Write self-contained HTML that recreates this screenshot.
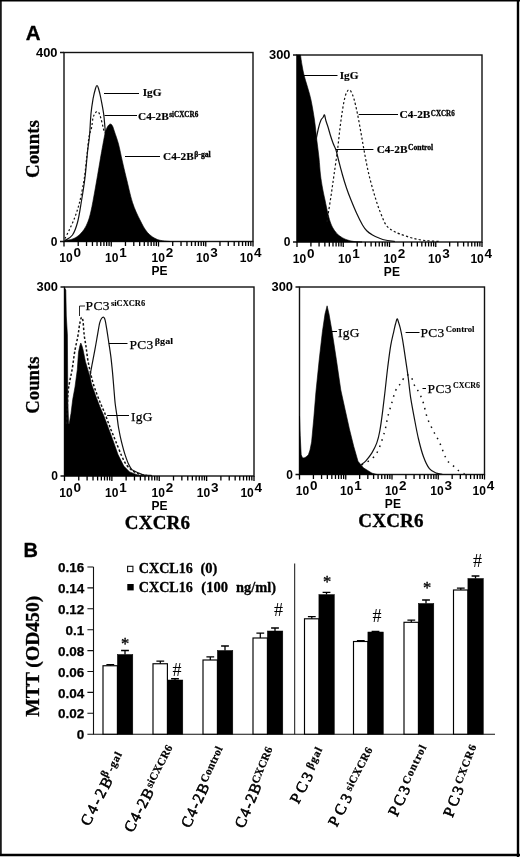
<!DOCTYPE html>
<html><head><meta charset="utf-8"><title>Figure</title>
<style>
html,body{margin:0;padding:0;background:#fff;}
body{width:520px;height:857px;overflow:hidden;position:relative;}
svg{display:block;position:absolute;left:0;top:0;}
text{fill:#111;}
.ax{font-family:"Liberation Sans",sans-serif;font-size:12px;font-weight:bold;fill:#000;}
.sup{font-size:13.5px;}
.pe{font-family:"Liberation Sans",sans-serif;font-size:12px;font-weight:bold;letter-spacing:0.2px;fill:#000;}
.lb{font-family:"Liberation Serif",serif;font-weight:bold;font-size:11.3px;fill:#000;stroke:#000;stroke-width:0.15px;}
.lbs{font-size:7.8px;stroke-width:0.3px;}
.lr{font-family:"Liberation Serif",serif;font-size:13.4px;letter-spacing:0.35px;fill:#000;stroke:#000;stroke-width:0.25px;}
.lrs{font-size:9px;font-weight:bold;letter-spacing:0;stroke-width:0.1px;}
.cx{font-family:"Liberation Serif",serif;font-weight:bold;font-size:19px;fill:#000;stroke:#000;stroke-width:0.35px;letter-spacing:0.2px;}
.cnt{font-family:"Liberation Serif",serif;font-weight:bold;font-size:19px;fill:#000;stroke:#000;stroke-width:0.3px;}
.pan{font-family:"Liberation Sans",sans-serif;font-weight:bold;font-size:20px;fill:#000;stroke:#000;stroke-width:0.3px;}
.yt{font-family:"Liberation Sans",sans-serif;font-weight:bold;font-size:13.5px;fill:#000;stroke:#000;stroke-width:0.25px;}
.lg{font-family:"Liberation Serif",serif;font-weight:bold;font-size:14.5px;fill:#000;stroke:#000;stroke-width:0.3px;}
.star{font-family:"Liberation Serif",serif;font-size:16.5px;fill:#000;stroke:#000;stroke-width:0.35px;}
.hash{font-family:"Liberation Serif",serif;font-size:18px;fill:#000;}
.xl{font-family:"Liberation Serif",serif;font-size:15.5px;letter-spacing:1.4px;fill:#000;stroke:#000;stroke-width:0.6px;}
.xls{font-size:11px;font-weight:bold;letter-spacing:0.3px;stroke-width:0.25px;}
</style></head>
<body>
<svg width="520" height="857" viewBox="0 0 520 857">
<rect x="0" y="0" width="520" height="857" fill="#fff"/>
<path d="M0.9,0 V855 M0,0.6 H520" stroke="#000" stroke-width="1.6" fill="none"/>
<path d="M518,0 V857 M0,855 H520" stroke="#000" stroke-width="2.4" fill="none"/>
<rect x="64" y="52.5" width="189" height="189.0" fill="none" stroke="#111" stroke-width="1.4"/>
<path d="M60,52.5 H64 M60,241.5 H64" stroke="#111" stroke-width="1.4" fill="none"/>
<path d="M64.00,241.5 v5 M78.22,241.5 v4.6 M86.54,241.5 v4.6 M92.45,241.5 v4.6 M97.03,241.5 v4.6 M100.77,241.5 v4.6 M103.93,241.5 v4.6 M106.67,241.5 v4.6 M109.09,241.5 v4.6 M111.25,241.5 v5 M125.47,241.5 v4.6 M133.79,241.5 v4.6 M139.70,241.5 v4.6 M144.28,241.5 v4.6 M148.02,241.5 v4.6 M151.18,241.5 v4.6 M153.92,241.5 v4.6 M156.34,241.5 v4.6 M158.50,241.5 v5 M172.72,241.5 v4.6 M181.04,241.5 v4.6 M186.95,241.5 v4.6 M191.53,241.5 v4.6 M195.27,241.5 v4.6 M198.43,241.5 v4.6 M201.17,241.5 v4.6 M203.59,241.5 v4.6 M205.75,241.5 v5 M219.97,241.5 v4.6 M228.29,241.5 v4.6 M234.20,241.5 v4.6 M238.78,241.5 v4.6 M242.52,241.5 v4.6 M245.68,241.5 v4.6 M248.42,241.5 v4.6 M250.84,241.5 v4.6 M253,241.5 v5" stroke="#000" stroke-width="1.3" fill="none"/>
<text x="57.5" y="56.8" class="ax" text-anchor="end" textLength="21.5" lengthAdjust="spacingAndGlyphs">400</text>
<text x="57.5" y="245.8" class="ax" text-anchor="end">0</text>
<text x="59.3" y="262.3" class="ax" textLength="13.4" lengthAdjust="spacingAndGlyphs">10</text>
<text x="73.5" y="257.1" class="ax sup">0</text>
<text x="105.0" y="262.3" class="ax" textLength="13.4" lengthAdjust="spacingAndGlyphs">10</text>
<text x="119.2" y="257.1" class="ax sup">1</text>
<text x="151.5" y="262.3" class="ax" textLength="13.4" lengthAdjust="spacingAndGlyphs">10</text>
<text x="165.7" y="257.1" class="ax sup">2</text>
<text x="196.0" y="262.3" class="ax" textLength="13.4" lengthAdjust="spacingAndGlyphs">10</text>
<text x="210.2" y="257.1" class="ax sup">3</text>
<text x="239.8" y="262.3" class="ax" textLength="13.4" lengthAdjust="spacingAndGlyphs">10</text>
<text x="254.0" y="257.1" class="ax sup">4</text>
<text x="159.6" y="275.4" class="pe" text-anchor="middle">PE</text>
<path d="M65.0,240.5 C66.2,239.6 70.4,238.0 72.5,235.0 C74.6,232.0 76.0,227.9 77.5,222.5 C79.0,217.1 80.0,210.0 81.2,202.5 C82.5,195.0 84.0,185.9 85.0,177.5 C86.0,169.1 86.8,158.9 87.5,152.0 C88.2,145.1 88.9,142.4 89.5,136.0 C90.1,129.6 90.4,119.8 91.0,113.5 C91.6,107.2 92.5,102.2 93.2,98.0 C94.0,93.8 94.9,90.6 95.5,88.5 C96.1,86.4 96.5,85.5 97.0,85.5 C97.5,85.5 97.9,86.4 98.5,88.5 C99.1,90.6 100.0,93.8 100.8,98.0 C101.6,102.2 102.9,108.5 103.6,113.5 C104.3,118.5 104.6,123.6 105.0,128.0 C105.4,132.4 105.2,133.0 106.0,140.0 C106.8,147.0 109.3,165.0 110.0,170.0" stroke="#111" stroke-width="1.2" fill="none"/>
<path d="M65.0,238.5 C65.6,237.2 67.3,234.1 68.8,231.0 C70.2,227.9 72.2,223.8 73.8,220.0 C75.3,216.2 76.8,212.0 78.0,208.0 C79.2,204.0 79.9,201.2 81.0,196.0 C82.1,190.8 83.5,183.8 84.5,177.0 C85.5,170.2 86.2,161.7 87.0,155.0 C87.8,148.3 88.2,141.5 89.0,137.0 C89.8,132.5 90.8,131.2 91.5,128.0 C92.2,124.8 92.4,120.5 93.0,118.0 C93.6,115.5 94.6,114.1 95.3,113.0 C96.0,111.9 96.4,111.6 97.0,111.6 C97.6,111.6 98.4,111.9 99.0,113.0 C99.6,114.1 100.1,115.7 100.8,118.0 C101.5,120.3 102.4,124.5 103.0,127.0 C103.6,129.5 104.2,132.0 104.5,133.0" stroke="#111" stroke-width="1.2" fill="none" stroke-dasharray="2 2.2"/>
<path d="M64.5,241.5 C64.6,241.3 63.8,240.9 65.0,240.5 C66.2,240.1 69.8,239.9 72.0,239.2 C74.2,238.4 76.0,237.6 78.0,236.0 C80.0,234.4 82.3,231.9 84.0,229.5 C85.7,227.1 86.8,224.6 88.0,221.5 C89.2,218.4 89.8,216.2 91.0,211.0 C92.2,205.8 93.5,198.3 95.0,190.0 C96.5,181.7 98.7,168.7 100.0,161.0 C101.3,153.3 102.1,148.8 103.0,144.0 C103.9,139.2 104.6,135.0 105.4,132.0 C106.2,129.0 107.2,127.3 108.0,126.0 C108.8,124.7 109.8,124.0 110.5,124.0 C111.2,124.0 111.8,124.7 112.5,126.0 C113.2,127.3 113.6,129.0 114.6,132.0 C115.6,135.0 117.2,139.2 118.5,144.0 C119.8,148.8 121.0,155.4 122.3,161.0 C123.6,166.6 124.5,170.6 126.2,177.5 C128.0,184.4 130.2,195.4 132.5,202.5 C134.8,209.6 137.5,215.0 140.0,220.0 C142.5,225.0 144.6,229.2 147.5,232.5 C150.4,235.8 153.8,238.0 157.5,239.5 C161.2,241.0 167.9,241.2 170.0,241.5 Z" fill="#000" stroke="#000" stroke-width="0.6"/>
<path d="M104,93.5 H139" stroke="#000" stroke-width="1" fill="none"/>
<path d="M104.5,115.5 H137" stroke="#000" stroke-width="1" fill="none"/>
<path d="M125,156.5 H160" stroke="#000" stroke-width="1" fill="none"/>
<text x="142.7" y="96.3" class="lb">IgG</text>
<text x="138" y="119.5" class="lb">C4-2B<tspan class="lbs" dx="0.5" dy="-2.6" textLength="29" lengthAdjust="spacingAndGlyphs">siCXCR6</tspan></text>
<text x="163" y="160" class="lb">C4-2B<tspan class="lbs" dx="0.5" dy="-2.6" textLength="16.5" lengthAdjust="spacingAndGlyphs">β-gal</tspan></text>
<rect x="297" y="55" width="185" height="187" fill="none" stroke="#111" stroke-width="1.4"/>
<path d="M293,55 H297 M293,242 H297" stroke="#111" stroke-width="1.4" fill="none"/>
<path d="M297.00,242 v5 M310.92,242 v4.6 M319.07,242 v4.6 M324.85,242 v4.6 M329.33,242 v4.6 M332.99,242 v4.6 M336.09,242 v4.6 M338.77,242 v4.6 M341.13,242 v4.6 M343.25,242 v5 M357.17,242 v4.6 M365.32,242 v4.6 M371.10,242 v4.6 M375.58,242 v4.6 M379.24,242 v4.6 M382.34,242 v4.6 M385.02,242 v4.6 M387.38,242 v4.6 M389.50,242 v5 M403.42,242 v4.6 M411.57,242 v4.6 M417.35,242 v4.6 M421.83,242 v4.6 M425.49,242 v4.6 M428.59,242 v4.6 M431.27,242 v4.6 M433.63,242 v4.6 M435.75,242 v5 M449.67,242 v4.6 M457.82,242 v4.6 M463.60,242 v4.6 M468.08,242 v4.6 M471.74,242 v4.6 M474.84,242 v4.6 M477.52,242 v4.6 M479.88,242 v4.6 M482,242 v5" stroke="#000" stroke-width="1.3" fill="none"/>
<text x="290.5" y="59.3" class="ax" text-anchor="end" textLength="21.5" lengthAdjust="spacingAndGlyphs">300</text>
<text x="290.5" y="246.3" class="ax" text-anchor="end">0</text>
<text x="292.7" y="262.8" class="ax" textLength="13.4" lengthAdjust="spacingAndGlyphs">10</text>
<text x="306.9" y="257.6" class="ax sup">0</text>
<text x="338.0" y="262.8" class="ax" textLength="13.4" lengthAdjust="spacingAndGlyphs">10</text>
<text x="352.2" y="257.6" class="ax sup">1</text>
<text x="383.6" y="262.8" class="ax" textLength="13.4" lengthAdjust="spacingAndGlyphs">10</text>
<text x="397.8" y="257.6" class="ax sup">2</text>
<text x="428.0" y="262.8" class="ax" textLength="13.4" lengthAdjust="spacingAndGlyphs">10</text>
<text x="442.2" y="257.6" class="ax sup">3</text>
<text x="470.4" y="262.8" class="ax" textLength="13.4" lengthAdjust="spacingAndGlyphs">10</text>
<text x="484.6" y="257.6" class="ax sup">4</text>
<text x="392" y="275.9" class="pe" text-anchor="middle">PE</text>
<path d="M297.0,242.0 L297.0,55.0 L300.5,55.0 L300.5,55.0 C300.8,56.7 301.4,61.7 302.0,65.0 C302.6,68.3 303.1,71.3 304.0,75.0 C304.9,78.7 306.3,82.8 307.5,87.0 C308.7,91.2 309.8,94.5 311.0,100.0 C312.2,105.5 313.5,113.3 314.5,120.0 C315.5,126.7 316.1,133.7 316.8,140.0 C317.6,146.3 318.4,152.2 319.0,158.0 C319.6,163.8 319.9,170.0 320.5,175.0 C321.1,180.0 321.8,183.8 322.5,188.0 C323.2,192.2 324.1,195.7 325.0,200.0 C325.9,204.3 327.0,210.0 328.0,214.0 C329.0,218.0 329.9,221.2 331.0,224.0 C332.1,226.8 333.2,228.6 334.5,230.5 C335.8,232.4 337.1,234.0 339.0,235.5 C340.9,237.0 343.5,238.5 346.0,239.5 C348.5,240.5 351.3,241.1 354.0,241.5 C356.7,241.9 360.7,241.9 362.0,242.0 Z" fill="#000" stroke="#000" stroke-width="0.6"/>
<path d="M316.0,140.0 C316.4,138.0 317.7,131.3 318.5,128.0 C319.3,124.7 320.2,121.8 321.0,120.0 C321.8,118.2 322.4,118.3 323.0,117.5 C323.6,116.7 324.0,114.4 324.5,115.0 C325.0,115.6 325.4,119.0 326.0,121.0 C326.6,123.0 327.3,124.8 328.0,127.0 C328.7,129.2 329.2,131.3 330.0,134.0 C330.8,136.7 332.0,140.3 333.0,143.0 C334.0,145.7 335.1,147.2 336.0,150.0 C336.9,152.8 337.4,155.8 338.5,160.0 C339.6,164.2 341.2,170.3 342.5,175.0 C343.8,179.7 345.1,183.8 346.5,188.0 C347.9,192.2 349.3,195.8 351.0,200.0 C352.7,204.2 354.6,208.8 356.5,213.0 C358.4,217.2 360.8,222.0 362.5,225.0 C364.2,228.0 365.3,229.3 367.0,231.0 C368.7,232.7 370.5,233.8 372.5,235.0 C374.5,236.2 376.9,237.2 379.0,238.0 C381.1,238.8 382.3,239.4 385.0,240.0 C387.7,240.6 393.3,241.2 395.0,241.5" stroke="#111" stroke-width="1.2" fill="none"/>
<path d="M327.0,222.0 C327.2,220.8 327.3,219.3 328.0,215.0 C328.7,210.7 330.0,202.7 331.0,196.0 C332.0,189.3 332.9,182.7 334.0,175.0 C335.1,167.3 336.5,157.8 337.5,150.0 C338.5,142.2 339.2,134.7 340.0,128.0 C340.8,121.3 341.7,115.2 342.5,110.0 C343.3,104.8 344.2,100.2 345.0,97.0 C345.8,93.8 346.8,92.2 347.5,91.0 C348.2,89.8 348.4,89.9 349.0,90.0 C349.6,90.1 350.2,90.0 351.0,91.5 C351.8,93.0 352.9,95.2 354.0,99.0 C355.1,102.8 356.3,108.3 357.5,114.0 C358.7,119.7 359.9,127.0 361.0,133.0 C362.1,139.0 362.7,143.0 364.0,150.0 C365.3,157.0 367.0,166.7 369.0,175.0 C371.0,183.3 374.0,193.5 376.0,200.0 C378.0,206.5 379.3,209.8 381.0,214.0 C382.7,218.2 384.1,222.2 386.0,225.0 C387.9,227.8 390.2,229.0 392.5,230.5 C394.8,232.0 396.8,232.8 400.0,234.0 C403.2,235.2 407.8,236.9 412.0,238.0 C416.2,239.1 420.3,239.9 425.0,240.5 C429.7,241.1 437.5,241.3 440.0,241.5" stroke="#111" stroke-width="1.2" fill="none" stroke-dasharray="2.2 2.2"/>
<path d="M303,75.5 H337.5" stroke="#000" stroke-width="1" fill="none"/>
<path d="M358.7,114.5 H398" stroke="#000" stroke-width="1" fill="none"/>
<path d="M335.8,149.5 H373.4" stroke="#000" stroke-width="1" fill="none"/>
<text x="339.7" y="79" class="lb">IgG</text>
<text x="399.6" y="118.2" class="lb">C4-2B<tspan class="lbs" dx="0.5" dy="-2.6" textLength="23.8" lengthAdjust="spacingAndGlyphs">CXCR6</tspan></text>
<text x="376.7" y="152.5" class="lb">C4-2B<tspan class="lbs" dx="0.5" dy="-2.6" textLength="25.3" lengthAdjust="spacingAndGlyphs">Control</tspan></text>
<rect x="64.5" y="287" width="189.5" height="189" fill="none" stroke="#111" stroke-width="1.4"/>
<path d="M60.5,287 H64.5 M60.5,476 H64.5" stroke="#111" stroke-width="1.4" fill="none"/>
<path d="M64.50,476 v5 M78.76,476 v4.6 M87.10,476 v4.6 M93.02,476 v4.6 M97.61,476 v4.6 M101.36,476 v4.6 M104.54,476 v4.6 M107.28,476 v4.6 M109.71,476 v4.6 M111.88,476 v5 M126.14,476 v4.6 M134.48,476 v4.6 M140.40,476 v4.6 M144.99,476 v4.6 M148.74,476 v4.6 M151.91,476 v4.6 M154.66,476 v4.6 M157.08,476 v4.6 M159.25,476 v5 M173.51,476 v4.6 M181.85,476 v4.6 M187.77,476 v4.6 M192.36,476 v4.6 M196.11,476 v4.6 M199.29,476 v4.6 M202.03,476 v4.6 M204.46,476 v4.6 M206.62,476 v5 M220.89,476 v4.6 M229.23,476 v4.6 M235.15,476 v4.6 M239.74,476 v4.6 M243.49,476 v4.6 M246.66,476 v4.6 M249.41,476 v4.6 M251.83,476 v4.6 M254,476 v5" stroke="#000" stroke-width="1.3" fill="none"/>
<text x="58.0" y="291.3" class="ax" text-anchor="end" textLength="21.5" lengthAdjust="spacingAndGlyphs">300</text>
<text x="58.0" y="480.3" class="ax" text-anchor="end">0</text>
<text x="59.3" y="496.8" class="ax" textLength="13.4" lengthAdjust="spacingAndGlyphs">10</text>
<text x="73.5" y="491.6" class="ax sup">0</text>
<text x="105.0" y="496.8" class="ax" textLength="13.4" lengthAdjust="spacingAndGlyphs">10</text>
<text x="119.2" y="491.6" class="ax sup">1</text>
<text x="151.5" y="496.8" class="ax" textLength="13.4" lengthAdjust="spacingAndGlyphs">10</text>
<text x="165.7" y="491.6" class="ax sup">2</text>
<text x="196.8" y="496.8" class="ax" textLength="13.4" lengthAdjust="spacingAndGlyphs">10</text>
<text x="211.0" y="491.6" class="ax sup">3</text>
<text x="240.4" y="496.8" class="ax" textLength="13.4" lengthAdjust="spacingAndGlyphs">10</text>
<text x="254.6" y="491.6" class="ax sup">4</text>
<text x="159.6" y="509.9" class="pe" text-anchor="middle">PE</text>
<path d="M88.0,400.0 C88.2,398.0 88.6,392.3 89.0,388.0 C89.4,383.7 89.7,378.5 90.3,374.3 C90.9,370.1 91.6,367.0 92.4,362.8 C93.2,358.6 94.1,353.8 95.0,349.1 C95.9,344.4 96.8,338.8 97.6,334.4 C98.4,330.0 99.0,325.5 99.7,322.9 C100.4,320.2 100.9,319.4 101.5,318.5 C102.1,317.6 102.9,317.2 103.4,317.2 C103.9,317.2 104.2,317.7 104.6,318.5 C104.9,319.3 105.1,319.7 105.5,321.8 C105.9,323.9 106.5,327.7 107.1,331.3 C107.7,334.9 108.3,339.3 108.9,343.3 C109.5,347.3 110.1,350.9 110.7,355.4 C111.3,359.9 111.8,365.2 112.3,370.1 C112.8,375.0 113.3,381.7 113.6,385.0 C113.9,388.3 113.7,386.9 114.0,390.0 C114.3,393.1 114.7,399.6 115.2,403.8 C115.7,408.0 116.3,411.4 116.9,415.4 C117.5,419.4 117.8,423.6 118.6,428.0 C119.4,432.4 120.4,437.5 121.5,441.9 C122.6,446.3 123.8,451.0 125.0,454.6 C126.2,458.2 127.2,461.3 128.4,463.8 C129.6,466.3 130.2,468.1 131.9,469.6 C133.6,471.1 136.9,472.1 138.8,473.0 C140.7,473.9 141.2,474.4 143.4,474.8 C145.6,475.2 150.6,475.4 152.0,475.5" stroke="#111" stroke-width="1.2" fill="none"/>
<path d="M64.5,476.0 L64.5,288.0 L65.8,290.0 L66.3,316.0 L67.4,335.0 L67.8,400.0 L68.6,424.0 L69.2,423.8 L71.0,413.4 L72.7,399.6 L75.0,386.9 L77.3,369.6 L78.5,352.3 L79.8,346.0 L80.8,343.0 L82.0,346.0 L83.1,350.0 L85.4,361.5 L88.8,373.0 L91.7,384.6 L95.8,396.1 L99.8,406.5 L103.8,415.7 L107.3,425.0 L112.3,438.4 L118.0,454.6 L123.8,466.1 L129.6,471.9 L138.8,475.4 L146.0,476.0 Z" fill="#000" stroke="#000" stroke-width="0.6"/>
<path d="M66.5,424.0 C66.6,421.7 67.0,415.2 67.2,410.0 C67.5,404.8 67.6,397.5 68.0,392.7 C68.4,387.9 69.1,384.9 69.8,381.0 C70.5,377.1 71.2,374.8 72.1,369.6 C73.0,364.4 74.0,355.6 75.0,350.0 C76.0,344.4 77.2,340.2 77.9,336.0 C78.7,331.8 79.0,327.9 79.5,325.0 C80.0,322.1 80.6,319.8 81.0,318.5 C81.4,317.2 81.7,317.1 82.0,317.5 C82.3,317.9 82.6,318.1 83.0,321.0 C83.4,323.9 83.7,330.8 84.2,335.0 C84.7,339.2 85.4,342.5 86.0,346.5 C86.6,350.5 87.0,354.9 87.7,359.2 C88.4,363.4 89.4,367.9 90.3,372.0 C91.2,376.1 92.1,379.8 93.2,383.5 C94.3,387.2 95.7,391.0 97.0,394.5 C98.3,398.0 99.7,401.3 101.0,404.5 C102.3,407.7 103.7,410.4 105.0,413.7 C106.3,416.9 107.7,421.1 108.8,424.0 C109.9,426.9 110.3,428.1 111.5,431.0 C112.7,433.9 114.1,437.4 115.8,441.5 C117.5,445.6 119.8,451.7 121.5,455.5 C123.2,459.3 124.4,461.8 126.1,464.3 C127.8,466.8 129.8,468.7 131.9,470.3 C134.1,471.9 136.5,473.1 139.0,474.0 C141.5,474.9 145.7,475.2 147.0,475.5" stroke="#111" stroke-width="1.5" fill="none" stroke-dasharray="2.4 2"/>
<path d="M85,306 H79.5 V316" stroke="#111" stroke-width="0.9" fill="none"/>
<path d="M108.9,343.5 H127.5" stroke="#000" stroke-width="1" fill="none"/>
<path d="M107.1,415.5 H129" stroke="#000" stroke-width="1" fill="none"/>
<text x="85.6" y="310.3" class="lr">PC3<tspan class="lrs" dx="1.2" dy="-4.8" textLength="34.2" lengthAdjust="spacingAndGlyphs">siCXCR6</tspan></text>
<text x="129.4" y="348.59999999999997" class="lr">PC3<tspan class="lrs" dx="1.2" dy="-4.8" textLength="18.3" lengthAdjust="spacingAndGlyphs">βgal</tspan></text>
<text x="131" y="420.7" class="lr">IgG</text>
<text x="157.5" y="528.7" class="cx" text-anchor="middle">CXCR6</text>
<rect x="299.5" y="287" width="185.0" height="187.5" fill="none" stroke="#111" stroke-width="1.4"/>
<path d="M295.5,287 H299.5 M295.5,474.5 H299.5" stroke="#111" stroke-width="1.4" fill="none"/>
<path d="M299.50,474.5 v5 M313.42,474.5 v4.6 M321.57,474.5 v4.6 M327.35,474.5 v4.6 M331.83,474.5 v4.6 M335.49,474.5 v4.6 M338.59,474.5 v4.6 M341.27,474.5 v4.6 M343.63,474.5 v4.6 M345.75,474.5 v5 M359.67,474.5 v4.6 M367.82,474.5 v4.6 M373.60,474.5 v4.6 M378.08,474.5 v4.6 M381.74,474.5 v4.6 M384.84,474.5 v4.6 M387.52,474.5 v4.6 M389.88,474.5 v4.6 M392.00,474.5 v5 M405.92,474.5 v4.6 M414.07,474.5 v4.6 M419.85,474.5 v4.6 M424.33,474.5 v4.6 M427.99,474.5 v4.6 M431.09,474.5 v4.6 M433.77,474.5 v4.6 M436.13,474.5 v4.6 M438.25,474.5 v5 M452.17,474.5 v4.6 M460.32,474.5 v4.6 M466.10,474.5 v4.6 M470.58,474.5 v4.6 M474.24,474.5 v4.6 M477.34,474.5 v4.6 M480.02,474.5 v4.6 M482.38,474.5 v4.6 M484.5,474.5 v5" stroke="#000" stroke-width="1.3" fill="none"/>
<text x="293.0" y="291.3" class="ax" text-anchor="end" textLength="21.5" lengthAdjust="spacingAndGlyphs">300</text>
<text x="293.0" y="478.8" class="ax" text-anchor="end">0</text>
<text x="295.7" y="495.3" class="ax" textLength="13.4" lengthAdjust="spacingAndGlyphs">10</text>
<text x="309.9" y="490.1" class="ax sup">0</text>
<text x="340.0" y="495.3" class="ax" textLength="13.4" lengthAdjust="spacingAndGlyphs">10</text>
<text x="354.2" y="490.1" class="ax sup">1</text>
<text x="384.9" y="495.3" class="ax" textLength="13.4" lengthAdjust="spacingAndGlyphs">10</text>
<text x="399.1" y="490.1" class="ax sup">2</text>
<text x="430.2" y="495.3" class="ax" textLength="13.4" lengthAdjust="spacingAndGlyphs">10</text>
<text x="444.4" y="490.1" class="ax sup">3</text>
<text x="472.5" y="495.3" class="ax" textLength="13.4" lengthAdjust="spacingAndGlyphs">10</text>
<text x="486.7" y="490.1" class="ax sup">4</text>
<text x="393" y="508.4" class="pe" text-anchor="middle">PE</text>
<path d="M299.5,474.5 L299.5,416.0 L300.2,435.4 L301.2,454.8 L302.5,457.8 L304.0,458.0 L306.0,457.0 L308.4,454.8 L310.0,450.0 L311.6,441.9 L313.8,418.1 L315.9,392.2 L319.2,359.8 L322.4,331.7 L325.0,314.0 L327.1,305.8 L329.0,314.0 L332.1,331.7 L336.4,359.8 L340.8,390.0 L345.1,409.5 L349.4,428.9 L353.7,446.2 L358.0,461.3 L363.4,467.8 L372.1,473.2 L377.0,474.5 Z" fill="#000" stroke="#000" stroke-width="0.6"/>
<path d="M361.0,464.8 C361.8,464.1 364.1,462.8 365.9,460.8 C367.7,458.8 370.1,455.9 371.9,452.9 C373.7,449.9 375.5,446.5 376.8,442.9 C378.1,439.2 378.9,435.9 379.8,431.0 C380.7,426.1 381.6,419.5 382.4,413.2 C383.2,406.9 383.9,400.9 384.8,393.3 C385.7,385.7 386.7,375.4 387.7,367.5 C388.7,359.6 389.7,351.6 390.7,345.7 C391.7,339.8 392.9,335.4 393.7,331.8 C394.5,328.2 394.9,326.1 395.5,324.0 C396.1,321.9 396.6,319.1 397.1,318.9 C397.6,318.6 398.1,321.0 398.6,322.5 C399.1,324.0 399.5,325.0 400.2,327.9 C400.9,330.8 401.7,334.5 402.6,339.8 C403.5,345.1 404.7,353.3 405.6,359.6 C406.5,365.9 407.4,371.2 408.2,377.5 C409.0,383.8 409.6,390.4 410.6,397.3 C411.7,404.2 413.2,412.2 414.5,419.1 C415.8,426.1 417.0,432.7 418.5,439.0 C420.0,445.3 421.7,451.9 423.5,456.8 C425.3,461.8 427.3,466.0 429.4,468.7 C431.5,471.4 434.1,472.2 436.3,473.1 C438.5,474.0 441.3,474.1 442.3,474.3" stroke="#111" stroke-width="1.2" fill="none"/>
<path d="M361.9,464.8 C363.7,463.6 370.1,460.5 372.9,457.8 C375.7,455.1 376.8,453.4 378.8,448.9 C380.8,444.4 383.3,436.3 384.8,431.0 C386.3,425.7 386.6,421.7 387.7,417.1 C388.8,412.5 390.4,407.8 391.7,403.3 C393.0,398.9 394.2,393.7 395.7,390.4 C397.2,387.1 399.1,385.7 400.6,383.4 C402.2,381.1 403.7,377.9 405.0,376.5 C406.3,375.1 407.4,374.8 408.5,375.0 C409.6,375.2 410.5,375.8 411.5,377.5 C412.5,379.2 413.2,382.8 414.5,385.4 C415.8,388.0 418.0,390.3 419.5,393.3 C421.0,396.3 422.2,399.2 423.5,403.3 C424.8,407.4 425.6,413.2 427.4,418.1 C429.2,423.1 432.4,429.0 434.4,433.0 C436.4,437.0 437.5,437.9 439.3,441.9 C441.1,445.9 443.7,453.3 445.3,456.8 C446.9,460.3 447.7,461.2 449.2,462.8 C450.7,464.4 452.6,465.3 454.2,466.7 C455.8,468.1 457.3,469.8 459.0,471.0 C460.7,472.2 463.6,473.5 464.5,474.0" stroke="#111" stroke-width="1.5" fill="none" stroke-dasharray="1.5 5" stroke-linecap="butt"/>
<path d="M331,331.5 H337" stroke="#000" stroke-width="1" fill="none"/>
<path d="M405.6,332.5 H419.5" stroke="#000" stroke-width="1" fill="none"/>
<path d="M422.5,388.5 H426" stroke="#000" stroke-width="1" fill="none"/>
<text x="338" y="336.7" class="lr">IgG</text>
<text x="420.5" y="336.7" class="lr">PC3<tspan class="lrs" dx="1.2" dy="-4.8" textLength="28.6" lengthAdjust="spacingAndGlyphs">Control</tspan></text>
<text x="427.6" y="392.7" class="lr">PC3<tspan class="lrs" dx="1.2" dy="-4.8" textLength="27" lengthAdjust="spacingAndGlyphs">CXCR6</tspan></text>
<text x="391" y="526.5" class="cx" text-anchor="middle">CXCR6</text>
<text class="cnt" transform="translate(39.2,178) rotate(-90)" textLength="57.8" lengthAdjust="spacingAndGlyphs">Counts</text>
<text class="cnt" transform="translate(39.2,413.7) rotate(-90)" textLength="57.2" lengthAdjust="spacingAndGlyphs">Counts</text>
<text class="pan" x="25.7" y="40.4" style="font-size:20.5px">A</text>
<text class="pan" x="23.6" y="557">B</text>
<path d="M93.5,567 V734.2 H495" stroke="#111" stroke-width="1.1" fill="none"/>
<path d="M294.7,563.5 V734.2" stroke="#111" stroke-width="1" fill="none"/>
<path d="M87.4,734.20 H93.5 M87.4,713.30 H93.5 M87.4,692.40 H93.5 M87.4,671.50 H93.5 M87.4,650.60 H93.5 M87.4,629.70 H93.5 M87.4,608.80 H93.5 M87.4,587.90 H93.5 M87.4,567.00 H93.5 " stroke="#111" stroke-width="1.1" fill="none"/>
<text x="84.2" y="739.30" class="yt" text-anchor="end">0</text>
<text x="84.2" y="718.40" class="yt" text-anchor="end">0.02</text>
<text x="84.2" y="697.50" class="yt" text-anchor="end">0.04</text>
<text x="84.2" y="676.60" class="yt" text-anchor="end">0.06</text>
<text x="84.2" y="655.70" class="yt" text-anchor="end">0.08</text>
<text x="84.2" y="634.80" class="yt" text-anchor="end">0.1</text>
<text x="84.2" y="613.90" class="yt" text-anchor="end">0.12</text>
<text x="84.2" y="593.00" class="yt" text-anchor="end">0.14</text>
<text x="84.2" y="572.10" class="yt" text-anchor="end">0.16</text>
<text class="cnt" transform="translate(39.3,716.8) rotate(-90)" textLength="121" lengthAdjust="spacingAndGlyphs">MTT (OD450)</text>
<rect x="103" y="665.75" width="14.4" height="68.45" fill="#fff" stroke="#000" stroke-width="1.15"/>
<rect x="117.4" y="654.5" width="15.4" height="79.70" fill="#000" stroke="#000" stroke-width="0.5"/>
<path d="M110.3,665.75 V664.5 M106.39999999999999,664.5 h7.8" stroke="#000" stroke-width="1.25" fill="none"/>
<path d="M125,654.5 V650.5 M121.1,650.5 h7.8" stroke="#000" stroke-width="1.3" fill="none"/>
<rect x="153" y="663.75" width="14.4" height="70.45" fill="#fff" stroke="#000" stroke-width="1.15"/>
<rect x="167.4" y="680" width="15.4" height="54.20" fill="#000" stroke="#000" stroke-width="0.5"/>
<path d="M160.3,663.75 V661 M156.4,661 h7.8" stroke="#000" stroke-width="1.25" fill="none"/>
<path d="M175,680 V678.75 M171.1,678.75 h7.8" stroke="#000" stroke-width="1.3" fill="none"/>
<rect x="203" y="660" width="14.4" height="74.20" fill="#fff" stroke="#000" stroke-width="1.15"/>
<rect x="217.4" y="650.5" width="15.4" height="83.70" fill="#000" stroke="#000" stroke-width="0.5"/>
<path d="M210.3,660 V656.75 M206.4,656.75 h7.8" stroke="#000" stroke-width="1.25" fill="none"/>
<path d="M225,650.5 V646 M221.1,646 h7.8" stroke="#000" stroke-width="1.3" fill="none"/>
<rect x="253" y="638" width="14.4" height="96.20" fill="#fff" stroke="#000" stroke-width="1.15"/>
<rect x="267.4" y="631" width="15.4" height="103.20" fill="#000" stroke="#000" stroke-width="0.5"/>
<path d="M260.3,638 V633 M256.40000000000003,633 h7.8" stroke="#000" stroke-width="1.25" fill="none"/>
<path d="M275,631 V628 M271.1,628 h7.8" stroke="#000" stroke-width="1.3" fill="none"/>
<rect x="304.5" y="618.8" width="14.4" height="115.40" fill="#fff" stroke="#000" stroke-width="1.15"/>
<rect x="318.9" y="594.6" width="15.4" height="139.60" fill="#000" stroke="#000" stroke-width="0.5"/>
<path d="M311.8,618.8 V616.5 M307.90000000000003,616.5 h7.8" stroke="#000" stroke-width="1.25" fill="none"/>
<path d="M326.5,594.6 V592.3 M322.6,592.3 h7.8" stroke="#000" stroke-width="1.3" fill="none"/>
<rect x="353.5" y="641.5" width="14.4" height="92.70" fill="#fff" stroke="#000" stroke-width="1.15"/>
<rect x="367.9" y="632" width="15.4" height="102.20" fill="#000" stroke="#000" stroke-width="0.5"/>
<path d="M360.8,641.5 V640.5 M356.90000000000003,640.5 h7.8" stroke="#000" stroke-width="1.25" fill="none"/>
<path d="M375.5,632 V631.3 M371.6,631.3 h7.8" stroke="#000" stroke-width="1.3" fill="none"/>
<rect x="404" y="622.3" width="14.4" height="111.90" fill="#fff" stroke="#000" stroke-width="1.15"/>
<rect x="418.4" y="603.5" width="15.4" height="130.70" fill="#000" stroke="#000" stroke-width="0.5"/>
<path d="M411.3,622.3 V620 M407.40000000000003,620 h7.8" stroke="#000" stroke-width="1.25" fill="none"/>
<path d="M426,603.5 V600 M422.1,600 h7.8" stroke="#000" stroke-width="1.3" fill="none"/>
<rect x="453.5" y="590" width="14.4" height="144.20" fill="#fff" stroke="#000" stroke-width="1.15"/>
<rect x="467.9" y="578.5" width="15.4" height="155.70" fill="#000" stroke="#000" stroke-width="0.5"/>
<path d="M460.8,590 V588 M456.90000000000003,588 h7.8" stroke="#000" stroke-width="1.25" fill="none"/>
<path d="M475.5,578.5 V576 M471.6,576 h7.8" stroke="#000" stroke-width="1.3" fill="none"/>
<text x="125" y="648.9" class="star" text-anchor="middle">*</text>
<text x="177" y="676" class="hash" text-anchor="middle">#</text>
<text x="278.5" y="616" class="hash" text-anchor="middle">#</text>
<text x="327" y="587.4" class="star" text-anchor="middle">*</text>
<text x="377" y="621.5" class="hash" text-anchor="middle">#</text>
<text x="427" y="593.4" class="star" text-anchor="middle">*</text>
<text x="477.5" y="566.5" class="hash" text-anchor="middle">#</text>
<rect x="127.6" y="566.3" width="5.3" height="5.3" fill="#fff" stroke="#111" stroke-width="1.1"/>
<rect x="127.3" y="584" width="6.4" height="6.4" fill="#000"/>
<text x="138.8" y="572.5" class="lg"><tspan textLength="54" lengthAdjust="spacingAndGlyphs">CXCL16</tspan><tspan x="200.4">(0)</tspan></text>
<text x="138.8" y="591.5" class="lg"><tspan textLength="54" lengthAdjust="spacingAndGlyphs">CXCL16</tspan><tspan x="201.3">(100</tspan><tspan x="236" textLength="40" lengthAdjust="spacingAndGlyphs">ng/ml)</tspan></text>
<text class="xl" transform="translate(126,755.5) rotate(-62.5)" text-anchor="end" style="letter-spacing:2.7px">C4-2B<tspan class="xls" dx="-3.5" dy="-7" style="letter-spacing:0.3px">β</tspan><tspan class="xls" dx="2" dy="3" style="letter-spacing:0.8px">-gal</tspan></text>
<text class="xl" transform="translate(176.5,749) rotate(-62.5)" text-anchor="end" style="letter-spacing:1.4px">C4-2B<tspan class="xls" dx="0" dy="-4" style="letter-spacing:0.3px">siCXCR6</tspan></text>
<text class="xl" transform="translate(226.5,750) rotate(-65)" text-anchor="end" style="letter-spacing:1.4px">C4-2B<tspan class="xls" dx="0" dy="-4" style="letter-spacing:0.3px">Control</tspan></text>
<text class="xl" transform="translate(276.5,750) rotate(-67.5)" text-anchor="end" style="letter-spacing:1.4px">C4-2B<tspan class="xls" dx="-1.5" dy="-4" style="letter-spacing:0.3px">CXCR6</tspan></text>
<text class="xl" transform="translate(326.5,750.7) rotate(-62.5)" text-anchor="end" style="letter-spacing:3.0px">PC3<tspan class="xls" dx="1.5" dy="-4" style="letter-spacing:0.9px">βgal</tspan></text>
<text class="xl" transform="translate(376.5,751) rotate(-62.5)" text-anchor="end" style="letter-spacing:3.8px">PC3<tspan class="xls" dx="0" dy="-4" style="letter-spacing:0.5px">siCXCR6</tspan></text>
<text class="xl" transform="translate(430.5,748.3) rotate(-64)" text-anchor="end" style="letter-spacing:2.4px">PC3<tspan class="xls" dx="0" dy="-4" style="letter-spacing:0.9px">Control</tspan></text>
<text class="xl" transform="translate(480.5,747) rotate(-68.5)" text-anchor="end" style="letter-spacing:2.4px">PC3<tspan class="xls" dx="0" dy="-4" style="letter-spacing:1.0px">CXCR6</tspan></text>
</svg>
</body></html>
